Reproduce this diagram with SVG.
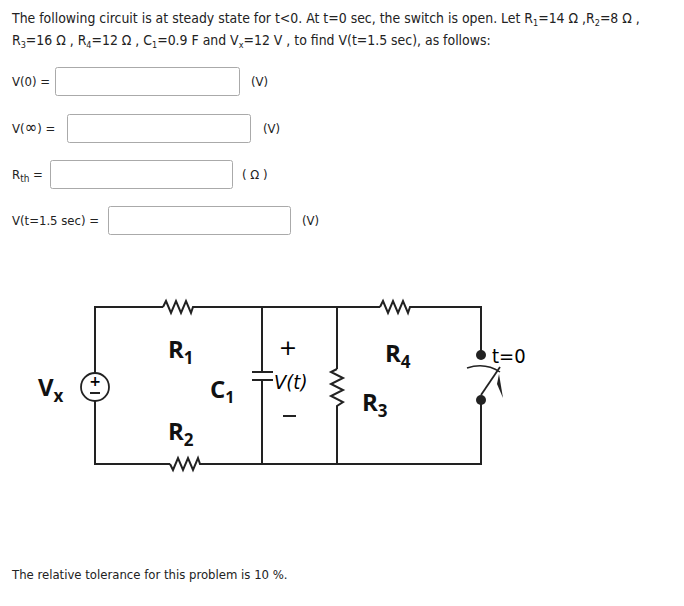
<svg xmlns="http://www.w3.org/2000/svg" width="684" height="606" viewBox="0 0 684 606">
<style>
.t{font-family:"DejaVu Sans Condensed","Liberation Sans",sans-serif;font-size:13px;fill:#222}
.h{font-size:13.9px}
.box{fill:#fff;stroke:#aaa;stroke-width:1}
.w{fill:none;stroke:#222;stroke-width:2}
.lb{font-family:"Open Sans","DejaVu Sans",sans-serif;font-weight:bold;font-size:24px;fill:#111}
</style>
<rect width="684" height="606" fill="#fff"/>
<text class="t h" x="12" y="23">The following circuit is at steady state for t&lt;0. At t=0 sec, the switch is open.  Let R<tspan font-size="9" dy="3">1</tspan><tspan dy="-3">=14 Ω ,R</tspan><tspan font-size="9" dy="3">2</tspan><tspan dy="-3">=8  Ω ,</tspan></text>
<text class="t h" x="12" y="45">R<tspan font-size="9" dy="3">3</tspan><tspan dy="-3">=16 Ω ,  R</tspan><tspan font-size="9" dy="3">4</tspan><tspan dy="-3">=12 Ω , C</tspan><tspan font-size="9" dy="3">1</tspan><tspan dy="-3">=0.9 F and V</tspan><tspan font-size="9" dy="3">x</tspan><tspan dy="-3">=12 V , to find V(t=1.5 sec), as follows:</tspan></text>
<g id="q1"><text class="t" x="12" y="86">V(0) =</text><rect class="box" x="55.5" y="67.5" width="184" height="28" rx="2"/><text class="t" x="251" y="86">(V)</text></g>
<g id="q2"><text class="t" x="12" y="133">V(<tspan font-size="17">∞</tspan>) =</text><rect class="box" x="67.5" y="114.5" width="183" height="28" rx="2"/><text class="t" x="263" y="133">(V)</text></g>
<g id="q3"><text class="t" x="12" y="179">R<tspan font-size="10" dy="3">th</tspan><tspan dy="-3"> =</tspan></text><rect class="box" x="50.5" y="160.5" width="182" height="28" rx="2"/><text class="t" x="242" y="179">( Ω )</text></g>
<g id="q4"><text class="t" x="12" y="225">V(t=1.5 sec) =</text><rect class="box" x="108.5" y="206.5" width="182" height="28" rx="2"/><text class="t" x="302" y="225">(V)</text></g>
<g id="connectors">
<path class="w" d="M95 373 V307 H163 M195 307 H380 M413 307 H481 V352"/>
<path class="w" d="M95 401 V464 H170 M202 464 H481 V402"/>
<path class="w" d="M262 307 V372 M262 380 V464"/>
<path class="w" d="M337 307 V369 M337 413 V464"/>
</g>
<g id="R1"><path class="w" stroke-width="1.6" d="M163 307 l3 -6 l5 12 l5 -12 l5 12 l5 -12 l5 12 l2 -6 h4"/><text class="lb" x="168" y="358">R<tspan font-size="17" dy="6">1</tspan></text></g>
<g id="R2"><path class="w" stroke-width="1.6" d="M170 464 l3 6 l5 -12 l5 12 l5 -12 l5 12 l5 -12 l2 6 h4"/><text class="lb" x="168" y="440">R<tspan font-size="17" dy="6">2</tspan></text></g>
<g id="R4"><path class="w" stroke-width="1.6" d="M380 307 l3 -6 l5 12 l5 -12 l5 12 l5 -12 l5 12 l2 -6 h3"/><text class="lb" x="385" y="362">R<tspan font-size="17" dy="6">4</tspan></text></g>
<g id="R3"><path class="w" stroke-width="1.6" d="M337 369 l-6 3 l12 6 l-12 6 l12 6 l-12 6 l12 6 l-6 4 v7"/><text class="lb" x="362" y="411">R<tspan font-size="17" dy="6">3</tspan></text></g>
<g id="Vx"><circle cx="95" cy="387" r="14" fill="#fff" stroke="#222" stroke-width="1.8"/><text x="95" y="386" text-anchor="middle" font-family="DejaVu Sans" font-size="14" font-weight="bold">+</text><path d="M90 393 H100" stroke="#222" stroke-width="2"/><text class="lb" x="38" y="396">V<tspan font-size="17" dy="6">x</tspan></text></g>
<g id="C1"><path class="w" d="M252 372 H273 M252 380 H273"/><text class="lb" x="210" y="398" font-size="22">C<tspan font-size="16" dy="5">1</tspan></text>
<text x="288" y="355" text-anchor="middle" font-family="DejaVu Sans" font-size="22">+</text>
<text x="274" y="389" font-family="DejaVu Sans Condensed" font-style="italic" font-size="20">V(t)</text>
<path d="M283 416 H296" stroke="#222" stroke-width="2"/></g>
<g id="switch"><circle cx="481" cy="355" r="5" fill="#222"/><circle cx="481" cy="400" r="5" fill="#222"/><path d="M481 395 L500 367" stroke="#222" stroke-width="1.8"/><path d="M467 368 Q485 362 500 372" fill="none" stroke="#222" stroke-width="1.5"/><path d="M499 374 L503 398 L497 384 Z" fill="#222"/><text x="492" y="363" font-family="DejaVu Sans Condensed" font-size="20">t=0</text></g>
<text class="t" x="12" y="579">The relative tolerance for this problem is 10 %.</text>
</svg>
